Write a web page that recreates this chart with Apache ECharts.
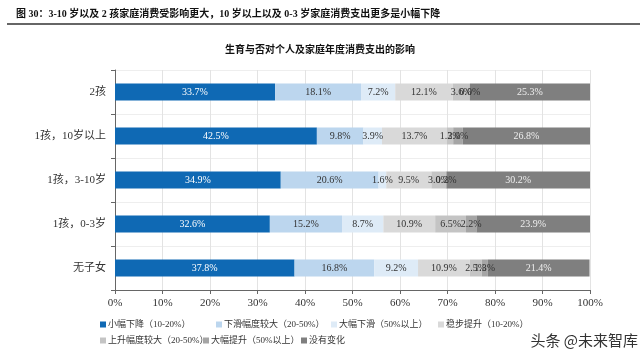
<!DOCTYPE html>
<html>
<head>
<meta charset="utf-8">
<script src="https://cdn.jsdelivr.net/npm/echarts@6/dist/echarts.min.js"></script>
<style>html,body{margin:0;padding:0;background:#fff}#c{width:640px;height:359px}</style>
</head>
<body>
<div id="c"></div>
<script>
var categories = ['2孩', '1孩，10岁以上', '1孩，3-10岁', '1孩，0-3岁', '无子女'];
var seriesNames = ['小幅下降（10-20%）', '下滑幅度较大（20-50%）', '大幅下滑（50%以上）', '稳步提升（10-20%）', '上升幅度较大（20-50%）', '大幅提升（50%以上）', '没有变化'];
var s1 = [33.7, 42.5, 34.9, 32.6, 37.8];
var s2 = [18.1, 9.8, 20.6, 15.2, 16.8];
var s3 = [7.2, 3.9, 1.6, 8.7, 9.2];
var s4 = [12.1, 13.7, 9.5, 10.9, 10.9];
var s5 = [3.6, 1.3, 3.0, 6.5, 2.5];
var s6 = [0.0, 2.0, 0.2, 2.2, 1.3];
var s7 = [25.3, 26.8, 30.2, 23.9, 21.4];
var xTicks = [0, 10, 20, 30, 40, 50, 60, 70, 80, 90, 100];

var allData = [s1, s2, s3, s4, s5, s6, s7];
var colors = ['#0f69b4', '#bcd6ee', '#deebf7', '#d9d9d9', '#c4c4c4', '#a5a5a5', '#7f7f7f'];
var labelColors = ['#ffffff', '#333333', '#333333', '#333333', '#333333', '#333333', '#eeeeee'];
var serif = '"Liberation Serif", "Noto Sans CJK SC", serif';

var chart = echarts.init(document.getElementById('c'));
var series = allData.map(function (d, i) {
  return {
    name: seriesNames[i],
    type: 'bar',
    stack: 'total',
    barWidth: 17,
    data: d,
    itemStyle: { color: colors[i] },
    label: {
      show: true,
      position: 'inside',
      formatter: function (p) { return p.value.toFixed(1) + '%'; },
      color: labelColors[i],
      fontFamily: serif,
      fontSize: 10
    }
  };
});

var legendPos = [[95, 315], [211, 315], [326, 315], [433, 315], [95, 331], [198, 331], [296, 331]];
var legends = seriesNames.map(function (n, i) {
  return {
    data: [n], left: legendPos[i][0], top: legendPos[i][1],
    itemWidth: 6, itemHeight: 6, icon: 'rect',
    textStyle: { fontSize: 9, color: '#333', fontFamily: serif, padding: [0, 0, 0, -3] }
  };
});

chart.setOption({
  animation: false,
  textStyle: { fontFamily: serif },
  title: [{
    text: '图 30：3-10 岁以及 2 孩家庭消费受影响更大，10 岁以上以及 0-3 岁家庭消费支出更多是小幅下降',
    left: 11, top: 4,
    textStyle: { fontSize: 10, fontWeight: 'bold', color: '#111', fontFamily: serif }
  }, {
    text: '生育与否对个人及家庭年度消费支出的影响',
    left: 'center', top: 40,
    textStyle: { fontSize: 10, fontWeight: 'bold', color: '#111', fontFamily: serif }
  }],
  graphic: [{
    type: 'line', shape: { x1: 7, y1: 24, x2: 640, y2: 24 },
    style: { stroke: '#333', lineWidth: 1.5 }
  }, {
    type: 'text', right: 2, top: 333,
    style: { text: '头条 @未来智库', font: '15px "Noto Sans CJK SC"', fill: '#333' }
  }],
  legend: legends,
  grid: { left: 115, right: 50, top: 70, bottom: 69, containLabel: false },
  xAxis: {
    type: 'value', min: 0, max: 100, interval: 10,
    axisLine: { show: true, lineStyle: { color: '#666' } },
    axisTick: { show: true, length: 4, lineStyle: { color: '#666' } },
    axisLabel: { formatter: function (v) { return v + '%'; }, color: '#333', fontSize: 11, fontFamily: serif, margin: 8 },
    splitLine: { show: true, lineStyle: { color: '#e3e3e3' } }
  },
  yAxis: {
    type: 'category', data: categories, inverse: true,
    axisLine: { show: true, lineStyle: { color: '#666' } },
    axisTick: { show: true, length: 4, lineStyle: { color: '#666' } },
    axisLabel: { color: '#333', fontSize: 11, fontFamily: serif, margin: 9 },
    splitLine: { show: true, lineStyle: { color: '#eeeeee' } }
  },
  series: series
});
</script>
</body>
</html>
